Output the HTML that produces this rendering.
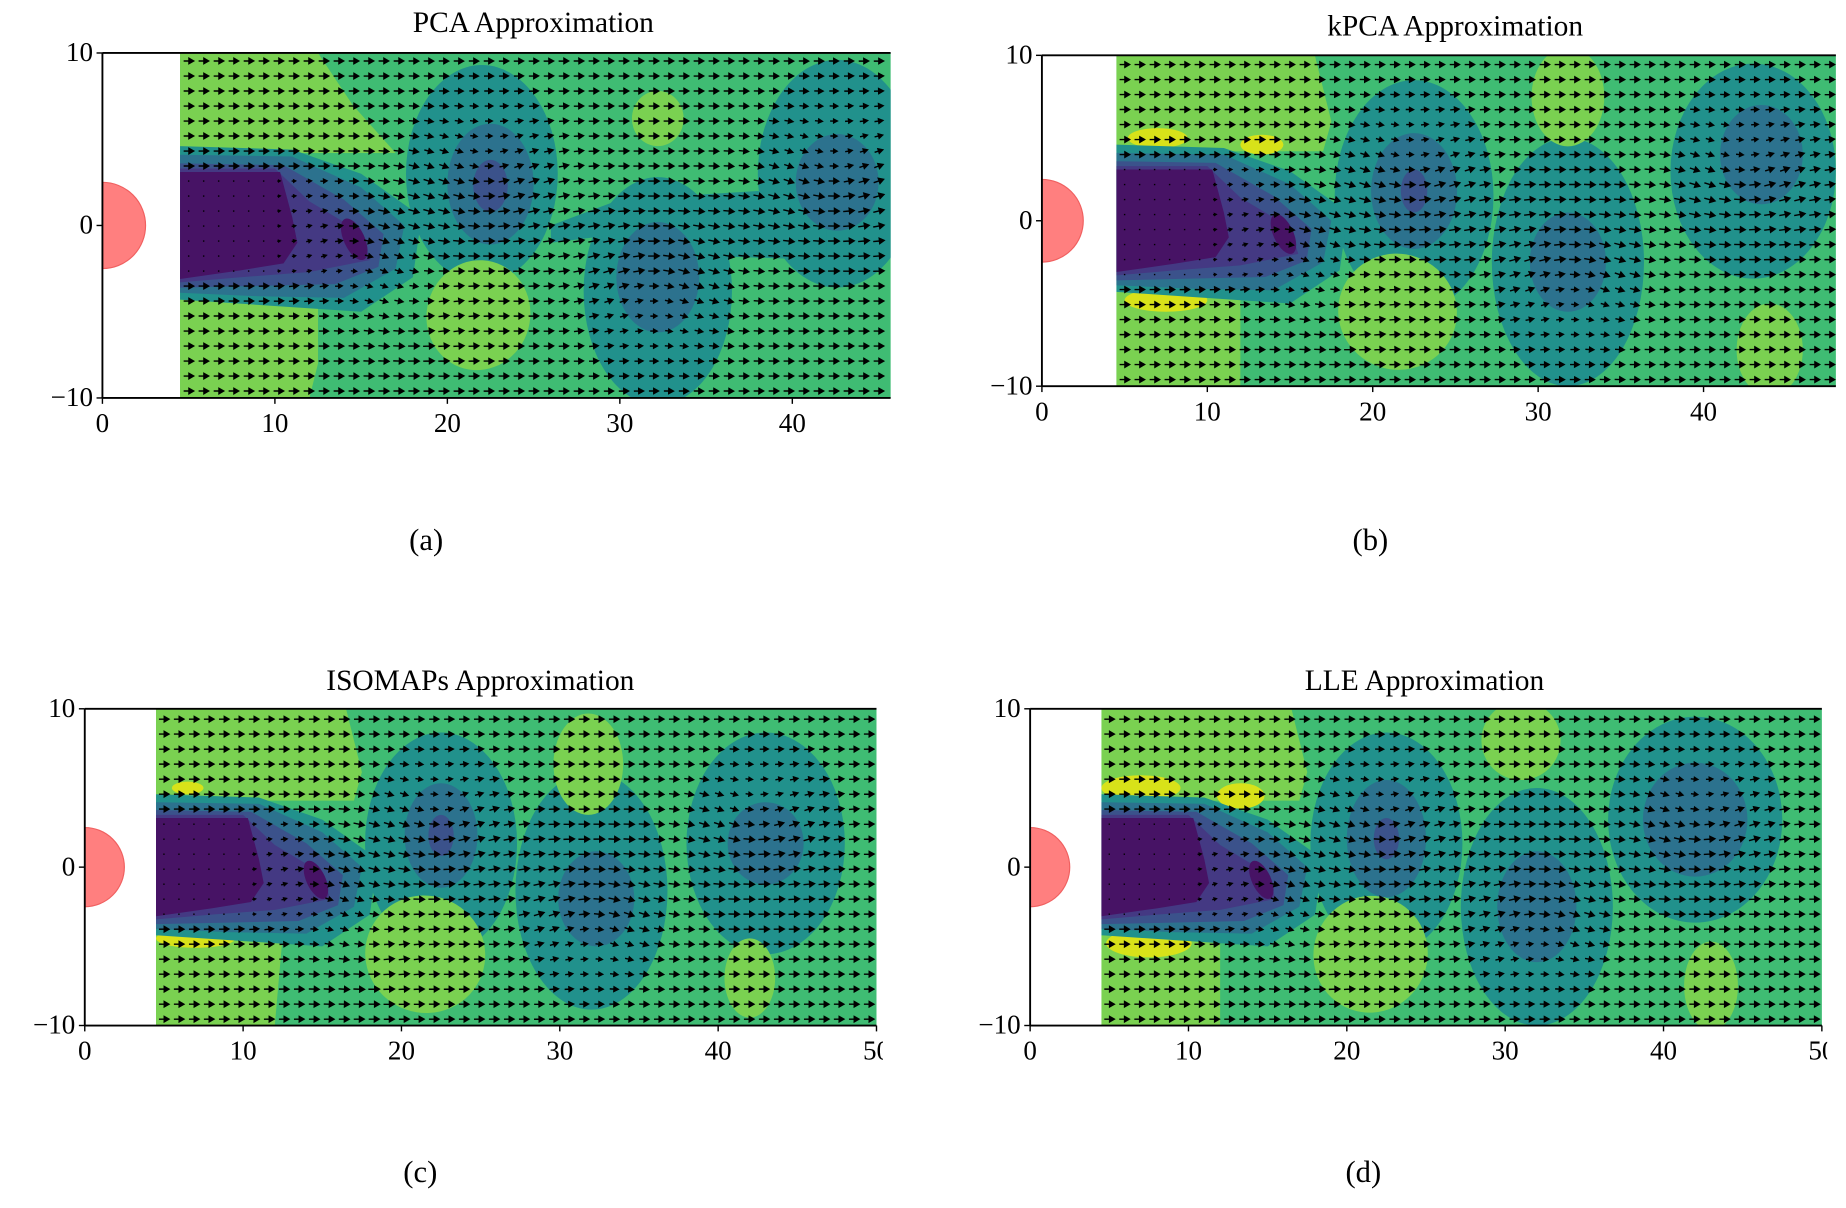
<!DOCTYPE html>
<html><head><meta charset="utf-8">
<style>
html,body{margin:0;padding:0;background:#fff;}
svg{display:block;}
text{font-family:"Liberation Serif",serif;fill:#000;}
</style></head>
<body>
<svg id="s" width="1846" height="1208" viewBox="0 0 1568 1026" preserveAspectRatio="none" xmlns="http://www.w3.org/2000/svg"></svg>
<script>
const NS="http://www.w3.org/2000/svg";
const S=document.getElementById('s');
function el(tag,attrs,parent,txt){const e=document.createElementNS(NS,tag);for(const k in attrs)e.setAttribute(k,attrs[k]);if(txt!==undefined)e.textContent=txt;(parent||S).appendChild(e);return e;}
const C={base:'#3fbc73',lg:'#7ad151',ye:'#d8e219',teal:'#22a884',t2:'#21918c',dk:'#2c728e',p1:'#3b528b',p2:'#443983',p3:'#471365'};
let pid=0;
function panel(P){
  pid++;
  const L=P.left,T=P.top,k=P.k,xmax=P.xmax;
  const X=x=>L+x*k, Y=y=>T+(10-y)*k;
  const W=xmax*k,H=20*k;
  const cp=el('clipPath',{id:'c'+pid});el('rect',{x:X(4.5),y:T,width:X(xmax)-X(4.5),height:H},cp);
  const ca=el('clipPath',{id:'a'+pid});el('rect',{x:L,y:T,width:W,height:H},ca);
  const g=el('g',{'clip-path':'url(#c'+pid+')'});
  el('rect',{x:X(4.5),y:T,width:W,height:H,fill:C.base},g);
  const poly=(pts,f)=>el('polygon',{points:pts.map(p=>X(p[0])+','+Y(p[1])).join(' '),fill:f},g);
  const ell=(cx,cy,rx,ry,f,rot)=>el('ellipse',{cx:X(cx),cy:Y(cy),rx:rx*k,ry:ry*k,fill:f,transform:rot?`rotate(${rot} ${X(cx)} ${Y(cy)})`:''},g);
  P.shapes.forEach(s=>{if(s[0]=='p')poly(s[1],s[2]);else ell(...s.slice(1));});
  poly([[4.5,4.6],[11,4.4],[15,3],[18.5,0.5],[18,-3],[15,-5],[9,-4.6],[4.5,-4.3]],C.t2);
  poly([[4.5,4.1],[11,4],[15,2.2],[17.5,0],[17,-2.5],[14,-4.2],[9,-4.1],[4.5,-3.9]],C.dk);
  poly([[4.5,3.6],[10.5,3.5],[14,1.5],[16.3,-0.5],[16,-2.4],[13.5,-3.4],[9,-3.5],[4.5,-3.6]],C.p1);
  poly([[4.5,3.3],[10,3.3],[12,1.4],[15,-0.4],[15.5,-2],[12,-2.7],[8,-3],[4.5,-3.3]],C.p2);
  poly([[4.5,3.1],[10.3,3.1],[11,0.5],[11.3,-1],[10.5,-2.2],[8,-2.6],[4.5,-3.1]],C.p3);
  ell(14.6,-0.8,0.6,1.3,C.p3,-25);
  const ag=el('g',{'clip-path':'url(#c'+pid+')'});
  const step=15/1.1773/k;
  const vort=P.vort;
  let d='';
  for(let x=5.0;x<xmax;x+=step){for(let y=-9.6;y<10;y+=step){
    let u=1,v=0;
    vort.forEach(o=>{const dx=x-o[0],dy=y-o[1];const e=Math.exp(-(dx*dx+dy*dy)/(o[3]*o[3]));u+=-o[2]*dy*e*0.09;v+=o[2]*dx*e*0.09;});
    let m=1;
    if(Math.abs(y)<3.4&&x<16){m=0.12+0.88*Math.max(0,(x-9)/7);}
    const ang=Math.atan2(v,u);const mag=Math.min(1.1,Math.hypot(u,v))*m;
    const len=8.5*mag;
    const px=X(x),py=Y(y);
    const ca_=Math.cos(ang),sa=-Math.sin(ang);
    if(mag<0.25){d+=`M${px-0.6},${py}h1.2`;continue;}
    const x0=px-ca_*len/2,y0=py-sa*len/2,x1=px+ca_*len/2,y1=py+sa*len/2;
    const hl=Math.min(4,len*0.5),hw=2.3*Math.min(1,mag);
    const bx=x1-ca_*hl,by=y1-sa*hl;
    d+=`M${x0.toFixed(1)},${y0.toFixed(1)}L${bx.toFixed(1)},${by.toFixed(1)}`;
    d+=`M${(bx-sa*hw).toFixed(1)},${(by+ca_*hw).toFixed(1)}L${x1.toFixed(1)},${y1.toFixed(1)}L${(bx+sa*hw).toFixed(1)},${(by-ca_*hw).toFixed(1)}Z`;
  }}
  el('path',{d:d,stroke:'#000','stroke-width':1.2,fill:'#000'},ag);
  const cg=el('g',{'clip-path':'url(#a'+pid+')'});
  el('circle',{cx:X(0),cy:Y(0),r:2.5*k,fill:'#ff7f7f',stroke:'#f06060','stroke-width':1},cg);
  el('line',{x1:L,y1:T,x2:L+W,y2:T,stroke:'#000','stroke-width':1.6});
  el('line',{x1:L,y1:T,x2:L,y2:T+H,stroke:'#000','stroke-width':1.6});
  el('line',{x1:L,y1:T+H,x2:L+W,y2:T+H,stroke:'#000','stroke-width':1.6});
  const tc=el('clipPath',{id:'t'+pid});el('rect',{x:0,y:0,width:(P.cut||2000),height:1026},tc);
  const tg=el('g',{'clip-path':'url(#t'+pid+')'});
  for(let t=0;t<=xmax+0.01;t+=10){const x=X(t);el('line',{x1:x,y1:T+H,x2:x,y2:T+H+5,stroke:'#000','stroke-width':1.2});
    el('text',{x:x,y:T+H+29,'font-size':23,'text-anchor':'middle'},tg,String(t));}
  [[10,'10'],[0,'0'],[-10,'\u221210']].forEach(a=>{const y=Y(a[0]);el('line',{x1:L-5,y1:y,x2:L,y2:y,stroke:'#000','stroke-width':1.2});
    el('text',{x:L-8,y:y+7,'font-size':23,'text-anchor':'end'},undefined,a[1]);});
  el('text',{x:P.tx,y:P.ty,'font-size':25,'text-anchor':'middle'},undefined,P.title);
  el('text',{x:P.lx,y:P.ly,'font-size':26,'text-anchor':'middle'},undefined,P.lab);
}
const shA=[
 ['p',[[4.5,10],[12.5,10],[14.5,7],[17,4.2],[4.5,4.2]],C.lg],
 ['p',[[4.5,-4.3],[12.5,-4.3],[12.5,-8],[12,-10],[4.5,-10]],C.lg],
 ['e',22,3,4.4,6.3,C.t2],['e',32.2,-3.8,4.3,6.6,C.t2],['e',42.6,3,4.6,6.6,C.t2],
 ['p',[[26,0],[30,1.5],[38,2],[42,1],[42,-2],[36,-1.8],[30,-0.5],[26,-1]],C.t2],
 ['e',22.5,2.4,2.5,3.5,C.dk],['e',32.2,-3,2.4,3.2,C.dk],['e',42.6,2.5,2.4,2.8,C.dk],
 ['e',22.5,2.3,1,1.5,C.p1],
 ['e',21.8,-5.2,3,3.2,C.lg,15],['e',32.2,6.2,1.5,1.6,C.lg]
];
const vA=[[14.5,-1,-2.5,3],[22.3,2.5,2.5,3.5],[32,-3,-2.5,3.5],[42.5,2.5,2.5,3.5],[18,-5,1,3]];
panel({left:87,top:45,k:14.65,xmax:45.7,title:'PCA Approximation',tx:453,ty:27,lab:'(a)',lx:362,ly:467,shapes:shA,vort:vA});
const shB=[
 ['p',[[4.5,10],[16.5,10],[17.5,6],[17,4.2],[4.5,4.2]],C.lg],
 ['p',[[4.5,-4.3],[12,-4.3],[12,-10],[4.5,-10]],C.lg],
 ['e',7,5,1.8,0.6,C.ye],['e',13.3,4.6,1.3,0.6,C.ye],['e',7.5,-4.8,2.5,0.7,C.ye],
 ['e',22.5,1.5,4.8,7,C.t2],['e',31.8,-2.5,4.6,7.5,C.t2],['e',43,3,5,6.5,C.t2],
 ['e',22.5,1.8,2.6,3.5,C.dk],['e',31.8,-2.5,2.3,3,C.dk],['e',43.5,4,2.5,3,C.dk],
 ['e',22.5,1.8,0.8,1.3,C.p1],
 ['e',21.5,-5.5,3.6,3.5,C.lg,20],['e',31.8,7.5,2.2,3,C.lg],['e',44,-7.8,2,2.8,C.lg]
];
panel({left:885,top:47,k:14.05,xmax:48,title:'kPCA Approximation',tx:1236,ty:30,lab:'(b)',lx:1164,ly:467,shapes:shB,vort:vA});
const shC=[
 ['p',[[4.5,10],[16.5,10],[17.5,6],[17,4.2],[4.5,4.2]],C.lg],
 ['p',[[4.5,-4.3],[12.5,-4.3],[12,-10],[4.5,-10]],C.lg],
 ['e',7,-4.5,2.5,0.6,C.ye],['e',6.5,5,1,0.4,C.ye],
 ['e',22.5,1.5,4.8,7,C.t2],['e',32,-1.5,4.8,7.5,C.t2],['e',43,1.5,5,7,C.t2],
 ['e',22.5,2,2.3,3.3,C.dk],['e',32.3,-2,2.4,3,C.dk],['e',43,1.5,2.4,2.6,C.dk],
 ['e',22.5,2,0.8,1.3,C.p1],
 ['e',21.5,-5.5,3.8,3.7,C.lg,20],['e',31.8,6.5,2.2,3.2,C.lg],['e',42,-7,1.6,2.5,C.lg]
];
panel({left:72,top:602,k:13.45,xmax:50,title:'ISOMAPs Approximation',tx:408,ty:586,lab:'(c)',lx:357,ly:1004,shapes:shC,vort:vA,cut:750});
const shD=[
 ['p',[[4.5,10],[16.5,10],[17.5,6],[17,4.2],[4.5,4.2]],C.lg],
 ['p',[[4.5,-4.3],[12,-4.3],[12,-10],[4.5,-10]],C.lg],
 ['e',7,5,2.5,0.8,C.ye],['e',13.3,4.5,1.5,0.8,C.ye],['e',7.5,-4.8,2.7,0.9,C.ye],
 ['e',22.5,1.5,4.8,7,C.t2],['e',32,-2.5,4.8,7.5,C.t2],['e',42,3,5.5,6.5,C.t2],
 ['e',22.5,1.8,2.5,3.7,C.dk],['e',32,-2.5,2.5,3.5,C.dk],['e',42,3,3.3,3.6,C.dk],
 ['e',22.5,1.8,0.8,1.3,C.p1],
 ['e',21.5,-5.5,3.6,3.7,C.lg,20],['e',31,8,2.5,2.5,C.lg],['e',43,-7.5,1.7,2.8,C.lg]
];
panel({left:875,top:602,k:13.45,xmax:50,title:'LLE Approximation',tx:1210,ty:586,lab:'(d)',lx:1158,ly:1004,shapes:shD,vort:vA,cut:1552});
</script>
</body></html>
